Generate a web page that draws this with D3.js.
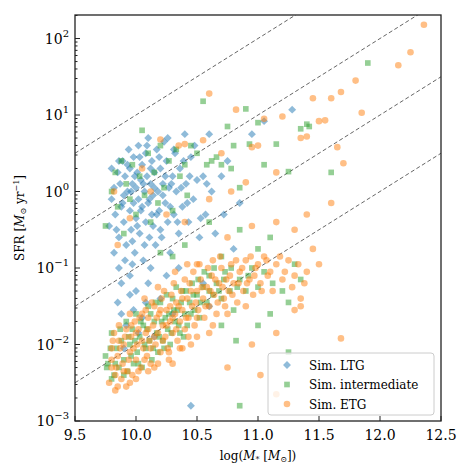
<!DOCTYPE html>
<html><head><meta charset="utf-8">
<script src="https://cdn.jsdelivr.net/npm/d3@7"></script>
<style>body{margin:0;background:#fff}text{font-family:"DejaVu Serif",serif}</style>
</head><body><svg id="c" width="474" height="474"></svg>
<script>
// [logM, logSFR]
const ltg = [[9.78,-0.45],[9.8,-0.1],[9.82,0.05],[9.83,-0.3],[9.85,0.25],[9.86,-0.6],[9.87,0.1],[9.88,-0.2],[9.89,0.4],[9.9,-0.05],[9.9,-0.4],[9.91,0.2],[9.92,-0.7],[9.93,0.0],[9.94,0.55],[9.95,-0.25],[9.95,0.3],[9.96,-0.5],[9.97,0.1],[9.98,-0.15],[9.98,0.45],[9.99,-0.8],[10.0,0.05],[10.0,-0.35],[10.01,0.25],[10.02,-0.1],[10.02,0.6],[10.03,-0.55],[10.04,0.15],[10.05,-0.2],[10.05,0.35],[10.06,-0.9],[10.07,0.0],[10.08,0.5],[10.08,-0.4],[10.09,0.2],[10.1,-0.15],[10.1,0.7],[10.11,-0.6],[10.12,0.1],[10.13,0.4],[10.13,-0.3],[10.14,-0.05],[10.15,0.25],[10.16,-0.7],[10.17,0.55],[10.18,0.0],[10.19,-0.25],[10.2,0.3],[10.2,-0.5],[10.22,0.1],[10.23,0.65],[10.24,-0.15],[10.25,0.4],[10.26,-0.4],[10.27,0.05],[10.28,-0.8],[10.3,0.2],[10.31,-0.3],[10.32,0.5],[10.33,0.0],[10.35,-0.55],[10.36,0.3],[10.38,-0.2],[10.4,0.75],[10.41,0.1],[10.43,-0.4],[10.45,0.45],[10.47,-0.1],[10.5,0.15],[10.52,-0.6],[10.55,0.2],[10.57,-0.3],[10.6,0.75],[10.62,0.0],[10.65,-0.55],[10.7,0.2],[10.72,-0.3],[10.75,0.4],[10.8,-0.75],[10.85,-0.15],[10.95,0.75],[11.05,0.92],[11.28,1.07],[10.45,-2.8],[9.85,-1.45],[9.88,-1.2],[9.92,-1.75],[9.95,-1.1],[9.98,-1.55],[10.0,-1.3],[10.05,-1.65],[10.1,-1.2],[10.15,-1.9],[9.9,-2.05],[10.2,-1.4],[10.25,-1.1],[10.3,-1.6],[10.55,-1.2],[10.6,-1.5],[9.97,-0.95],[10.12,-1.0],[10.35,-1.0],[9.82,-0.8],[9.86,-1.0],
[9.8,0.3],[9.84,-0.5],[9.86,0.4],[9.89,-0.15],[9.91,-0.9],[9.93,0.35],[9.96,0.0],[9.97,-0.65],[9.99,0.2],[10.01,-0.45],[10.03,0.45],[10.04,-0.25],[10.06,0.1],[10.07,-0.7],[10.09,0.6],[10.11,-0.1],[10.12,0.3],[10.14,-0.45],[10.15,0.05],[10.17,-0.3],[10.19,0.45],[10.21,-0.6],[10.22,-0.05],[10.24,0.2],[10.26,0.7],[10.28,-0.2],[10.29,0.1],[10.31,0.55],[10.34,-0.4],[10.37,0.05],[10.39,0.4],[10.42,-0.15],[10.44,0.2],[10.48,0.6],[10.53,-0.35],[10.58,0.1],[9.95,-1.35],[10.08,-1.45],[10.02,-1.85],[9.88,-1.6]];
const inter = [[9.75,-0.45],[9.8,0.0],[9.83,0.25],[9.85,-0.2],[9.88,0.4],[9.9,-0.55],[9.92,0.1],[9.95,-0.1],[9.97,0.35],[10.0,-0.3],[10.03,0.2],[10.05,0.8],[10.07,-0.05],[10.1,0.5],[10.12,-0.4],[10.15,0.25],[10.18,-0.15],[10.2,0.6],[10.23,0.05],[10.27,0.4],[10.3,-0.25],[10.33,0.55],[10.36,0.2],[10.4,0.35],[10.42,-0.05],[10.45,0.6],[10.5,0.5],[10.55,1.18],[10.58,0.35],[10.62,0.4],[10.66,0.45],[10.7,0.35],[10.75,0.85],[10.78,0.3],[10.8,0.6],[10.85,0.05],[10.9,1.08],[10.93,0.62],[11.0,0.9],[11.05,0.35],[11.15,0.62],[11.25,0.26],[11.35,0.82],[11.4,0.88],[11.42,0.85],[11.6,0.25],[11.9,1.68],[10.2,-0.8],[10.4,-0.7],[10.6,-0.4],[10.7,-0.85],[10.85,-0.5],[11.0,-0.75],[11.1,-0.6],[11.3,-0.95],[10.3,-0.85],
[9.75,-2.15],[9.77,-2.25],[9.8,-1.85],[9.82,-2.4],[9.84,-2.05],[9.86,-2.3],[9.88,-1.95],[9.9,-2.2],[9.92,-1.7],[9.93,-2.35],[9.95,-2.0],[9.97,-1.8],[9.98,-2.25],[10.0,-1.6],[10.01,-2.1],[10.03,-1.9],[10.05,-2.3],[10.06,-1.75],[10.08,-2.05],[10.1,-1.5],[10.11,-1.95],[10.13,-2.2],[10.15,-1.7],[10.17,-1.85],[10.18,-2.1],[10.2,-1.45],[10.22,-1.95],[10.24,-1.65],[10.26,-1.8],[10.28,-2.0],[10.3,-1.4],[10.32,-1.7],[10.34,-1.55],[10.36,-1.85],[10.38,-1.3],[10.4,-1.6],[10.42,-1.75],[10.44,-1.45],[10.46,-1.2],[10.48,-1.55],[10.5,-1.35],[10.52,-1.65],[10.55,-1.25],[10.58,-1.45],[10.6,-1.1],[10.63,-1.35],[10.66,-1.2],[10.7,-1.4],[10.73,-1.05],[10.77,-1.3],[10.8,-1.55],[10.85,-1.15],[10.9,-1.3],[10.95,-1.0],[11.0,-1.25],[11.05,-1.05],[11.12,-1.2],[11.2,-1.3],[11.25,-1.45],[11.35,-1.15],[10.7,-1.75],[11.1,-1.6],[10.82,-1.95],[11.25,-2.1],[10.85,-2.8],[11.0,-1.75],
[9.79,-2.05],[9.83,-2.25],[9.87,-1.8],[9.9,-2.4],[9.94,-1.9],[9.96,-2.15],[9.99,-1.95],[10.02,-2.25],[10.04,-1.7],[10.07,-2.0],[10.09,-1.8],[10.12,-1.6],[10.14,-2.05],[10.16,-1.45],[10.19,-1.9],[10.21,-1.7],[10.23,-2.05],[10.25,-1.35],[10.27,-1.6],[10.29,-1.85],[10.31,-1.55],[10.33,-1.25],[10.35,-1.75],[10.37,-1.45],[10.39,-1.9],[10.41,-1.3],[10.45,-1.6],[10.47,-1.35],[10.51,-1.15],[10.53,-1.45],[10.56,-1.05],[10.6,-1.3],[10.64,-1.0],[10.68,-1.3],[10.72,-1.15],[10.78,-1.0],[10.83,-1.25],[10.92,-1.1],[9.76,-2.3],[9.8,-2.45]];
const etg = [[9.78,-2.5],[9.8,-2.3],[9.8,-2.05],[9.82,-1.85],[9.83,-2.4],[9.85,-2.15],[9.86,-1.95],[9.88,-2.45],[9.89,-2.25],[9.9,-2.0],[9.92,-1.8],[9.93,-2.35],[9.95,-2.1],[9.96,-1.9],[9.97,-2.4],[9.99,-1.7],[10.0,-2.2],[10.01,-2.0],[10.02,-1.8],[10.04,-2.3],[10.05,-1.6],[10.06,-2.05],[10.08,-1.85],[10.09,-2.15],[10.1,-1.65],[10.11,-1.95],[10.12,-2.25],[10.14,-1.75],[10.15,-1.5],[10.16,-2.0],[10.18,-1.85],[10.19,-1.6],[10.2,-2.1],[10.21,-1.4],[10.22,-1.75],[10.24,-1.9],[10.25,-1.55],[10.26,-2.05],[10.28,-1.7],[10.29,-1.35],[10.3,-1.85],[10.32,-1.6],[10.33,-1.45],[10.34,-1.95],[10.36,-1.7],[10.37,-1.3],[10.38,-1.55],[10.4,-1.8],[10.42,-1.4],[10.43,-1.65],[10.44,-1.2],[10.46,-1.5],[10.48,-1.75],[10.5,-1.3],[10.51,-1.55],[10.53,-1.15],[10.55,-1.4],[10.56,-1.65],[10.58,-1.25],[10.6,-1.5],[10.62,-1.1],[10.64,-1.35],[10.66,-1.6],[10.68,-1.2],[10.7,-1.0],[10.72,-1.4],[10.74,-1.15],[10.76,-1.3],[10.78,-0.95],[10.8,-1.2],[10.83,-1.45],[10.85,-1.05],[10.88,-1.3],[10.9,-0.9],[10.93,-1.15],[10.96,-1.35],[10.98,-1.0],[11.02,-1.2],[11.05,-0.85],[11.08,-1.1],[11.12,-1.3],[11.15,-0.95],[11.2,-1.15],[11.25,-0.9],[11.3,-1.1],[11.35,-1.4],[11.4,-1.05],[11.45,-0.75],[11.3,-1.55],[10.75,-2.3],[11.02,-2.4],[11.15,-1.85],[11.68,-1.92],[11.35,-1.5],[10.95,-2.0],[11.15,-2.65],[10.6,-1.85],[10.3,-2.25],[10.45,-2.0],[9.95,-2.5],[10.1,-2.35],[9.85,-2.55],
[9.8,-2.2],[9.81,-1.95],[9.84,-2.3],[9.87,-2.05],[9.9,-2.35],[9.91,-1.9],[9.94,-2.2],[9.96,-1.75],[9.98,-2.05],[10.0,-1.85],[10.02,-2.35],[10.03,-1.65],[10.05,-1.95],[10.07,-2.2],[10.08,-1.55],[10.1,-1.8],[10.12,-2.05],[10.13,-1.45],[10.15,-1.9],[10.17,-1.65],[10.18,-2.25],[10.2,-1.55],[10.22,-1.95],[10.23,-1.3],[10.25,-1.75],[10.27,-2.1],[10.28,-1.5],[10.3,-1.65],[10.31,-1.2],[10.33,-1.8],[10.35,-1.5],[10.36,-2.05],[10.38,-1.4],[10.4,-1.15],[10.41,-1.65],[10.43,-1.9],[10.45,-1.3],[10.47,-1.05],[10.49,-1.45],[10.5,-1.65],[10.52,-0.95],[10.54,-1.25],[10.57,-1.5],[10.59,-1.0],[10.61,-1.3],[10.63,-0.9],[10.65,-1.15],[10.67,-1.45],[10.69,-0.85],[10.71,-1.25],[10.73,-1.5],[10.77,-1.1],[10.79,-1.35],[10.82,-0.9],[10.84,-1.2],[10.87,-1.0],[10.91,-1.2],[10.94,-0.85],[10.97,-1.1],[11.0,-0.95],[11.03,-1.3],[11.07,-0.9],[11.1,-1.05],[11.18,-0.85],[11.22,-1.05],[11.28,-1.25],[11.33,-0.95],[11.38,-1.2],[11.5,-0.95],[9.83,-2.6],[9.92,-2.55],[10.0,-2.45],[10.15,-2.3],[10.27,-2.2],[10.38,-2.05],[10.5,-1.9],[10.63,-1.75],[10.75,-1.6],[10.9,-1.5],[9.86,-1.75],[9.95,-1.6],[10.07,-1.4],[10.18,-1.25],[10.32,-1.05],[10.42,-0.95],
[9.82,0.0],[9.95,-0.35],[10.05,0.3],[10.12,0.0],[10.2,0.68],[10.35,0.6],[10.4,0.62],[10.55,0.67],[10.6,1.28],[10.7,0.5],[10.78,0.0],[10.82,1.07],[10.9,0.12],[10.95,0.58],[11.0,0.6],[11.05,0.95],[11.15,0.25],[11.2,0.98],[11.35,0.7],[11.4,0.72],[11.45,1.22],[11.5,0.92],[11.55,0.93],[11.6,1.22],[11.65,0.58],[11.68,1.3],[11.7,0.37],[11.8,1.45],[11.85,1.03],[12.15,1.65],[12.25,1.82],[12.36,2.18],[10.4,-0.4],[10.6,-0.1],[10.75,-0.6],[10.95,-0.45],[11.15,-0.4],[11.3,-0.5],[11.4,-0.3],[11.6,-0.15],[10.5,-0.95],[10.25,-0.3],[9.85,-0.7]];
const ssfrLines = [-9,-10,-11,-12];
const xTicks = [9.5,10.0,10.5,11.0,11.5,12.0,12.5];
const yTicks = [-3,-2,-1,0,1,2];

const svg = d3.select("#c");
const L=75,R=441,T=15,B=421;
const x = d3.scaleLinear().domain([9.5,12.5]).range([L,R]);
const y = d3.scaleLog().domain([1e-3,203]).range([B,T]);
const g = svg.append("g");
svg.append("defs").append("clipPath").attr("id","cp").append("rect").attr("x",L).attr("y",T).attr("width",R-L).attr("height",B-T);
const pg = g.append("g").attr("clip-path","url(#cp)");
ssfrLines.forEach(s=>{
  pg.append("line").attr("x1",x(9.5)).attr("y1",y(Math.pow(10,9.5+s))).attr("x2",x(12.5)).attr("y2",y(Math.pow(10,12.5+s)))
   .attr("stroke","#666").attr("stroke-width",1).attr("stroke-dasharray","4,2.5");
});
pg.selectAll(".l").data(ltg).join("path").attr("d",d3.symbol(d3.symbolDiamond2,40))
  .attr("transform",d=>`translate(${x(d[0])},${y(Math.pow(10,d[1]))})`).attr("fill","#1f77b4").attr("fill-opacity",0.5);
pg.selectAll(".i").data(inter).join("path").attr("d",d3.symbol(d3.symbolSquare,32))
  .attr("transform",d=>`translate(${x(d[0])},${y(Math.pow(10,d[1]))})`).attr("fill","#2ca02c").attr("fill-opacity",0.5);
pg.selectAll(".e").data(etg).join("circle").attr("cx",d=>x(d[0])).attr("cy",d=>y(Math.pow(10,d[1]))).attr("r",3.3)
  .attr("fill","#ff7f0e").attr("fill-opacity",0.5);

g.append("rect").attr("x",L).attr("y",T).attr("width",R-L).attr("height",B-T).attr("fill","none").attr("stroke","#222").attr("stroke-width",1.3);
xTicks.forEach(t=>{
  g.append("line").attr("x1",x(t)).attr("x2",x(t)).attr("y1",B).attr("y2",B-5).attr("stroke","#222");
  g.append("text").attr("x",x(t)).attr("y",B+19).attr("text-anchor","middle").attr("font-size",14).text(t.toFixed(1));
});
yTicks.forEach(t=>{
  const yy=y(Math.pow(10,t));
  g.append("line").attr("x1",L).attr("x2",L+5).attr("y1",yy).attr("y2",yy).attr("stroke","#222");
  const tx=g.append("text").attr("x",L-6).attr("y",yy+5).attr("text-anchor","end").attr("font-size",14);
  tx.append("tspan").text("10");
  tx.append("tspan").attr("dy",-7).attr("font-size",10).text(t<0?"\u2212"+(-t):String(t));
});
for(let e=-3;e<=2;e++) for(let m=2;m<=9;m++){
  const v=m*Math.pow(10,e); if(v>203) continue;
  g.append("line").attr("x1",L).attr("x2",L+2.5).attr("y1",y(v)).attr("y2",y(v)).attr("stroke","#222");
}
const xl=g.append("text").attr("x",(L+R)/2).attr("y",460).attr("text-anchor","middle").attr("font-size",12);
xl.append("tspan").text("log(");xl.append("tspan").attr("font-style","italic").text("M");
xl.append("tspan").attr("font-size",8).attr("dy",2).text("*");xl.append("tspan").attr("dy",-2).text(" [");
xl.append("tspan").attr("font-style","italic").text("M");xl.append("tspan").attr("font-size",8).attr("dy",2).text("\u2299");
xl.append("tspan").attr("dy",-2).text("])");
const yl=g.append("text").attr("transform","translate(24,218) rotate(-90)").attr("text-anchor","middle").attr("font-size",12);
yl.append("tspan").text("SFR [");yl.append("tspan").attr("font-style","italic").text("M");
yl.append("tspan").attr("font-size",8).attr("dy",2).text("\u2299");yl.append("tspan").attr("dy",-2).text(" yr");
yl.append("tspan").attr("font-size",8).attr("dy",-5).text("\u22121");yl.append("tspan").attr("dy",5).text("]");
const lg=g.append("g");
lg.append("rect").attr("x",268).attr("y",353).attr("width",166).attr("height",62).attr("rx",3).attr("fill","#fff").attr("fill-opacity",0.8).attr("stroke","#ccc");
const items=[["Sim. LTG","d"],["Sim. intermediate","s"],["Sim. ETG","c"]];
items.forEach((it,i)=>{
  const yy=365+i*19.5;
  if(it[1]==="d") lg.append("path").attr("d",d3.symbol(d3.symbolDiamond2,40)).attr("transform",`translate(287,${yy})`).attr("fill","#1f77b4").attr("fill-opacity",0.5);
  if(it[1]==="s") lg.append("path").attr("d",d3.symbol(d3.symbolSquare,32)).attr("transform",`translate(287,${yy})`).attr("fill","#2ca02c").attr("fill-opacity",0.5);
  if(it[1]==="c") lg.append("circle").attr("cx",287).attr("cy",yy).attr("r",3.3).attr("fill","#ff7f0e").attr("fill-opacity",0.5);
  lg.append("text").attr("x",309).attr("y",yy+4.5).attr("font-size",12).text(it[0]);
});
</script></body></html>
